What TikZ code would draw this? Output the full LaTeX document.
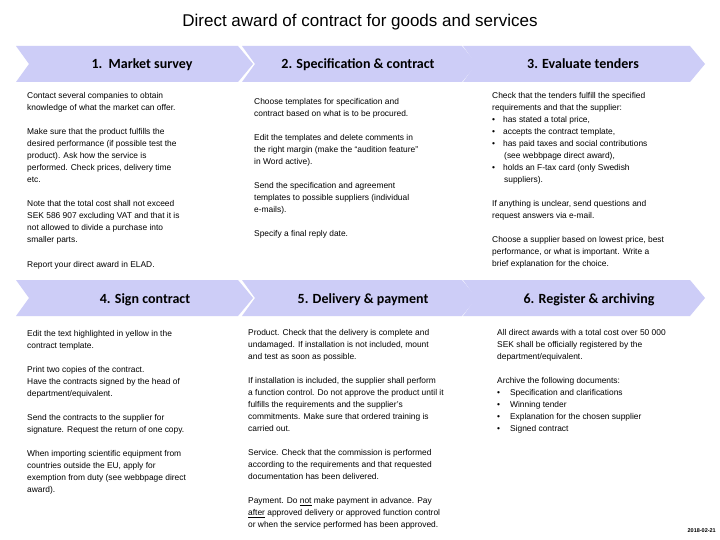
\documentclass[tikz,border=0pt]{standalone}
\usepackage{fontspec}
\setmainfont{Liberation Sans}
\newfontfamily\hdfont{Carlito}
\begin{document}
\begin{tikzpicture}[x=1pt,y=-1pt,
  body/.style={anchor=north west,inner sep=0pt,align=left,font=\fontsize{8.4}{12}\selectfont},
  head/.style={anchor=base,inner sep=0pt,font=\hdfont\bfseries\fontsize{14}{16}\selectfont}]
\definecolor{chevfill}{HTML}{CDCDF7}
\useasboundingbox (0,0) rectangle (720,540);
\fill[white] (0,0) rectangle (720,540);
\node[font=\fontsize{17}{19}\selectfont] (title) at (360,22) {Direct award of contract for goods and services};
\def\chevron#1#2#3{%
  \fill[chevfill] (#1,#3) -- (#2-15,#3) -- (#2,#3+18) -- (#2-15,#3+36) -- (#1,#3+36) -- (#1+13,#3+18) -- cycle;}
\foreach \a/\b in {16/253,242/477,463/705}{\chevron{\a}{\b}{46}\chevron{\a}{\b}{280}}
\node[head] (h1) at (142,69) {1.\ \ Market survey};
\node[head] (h2) at (358,69) {2. Specification \& contract};
\node[head] (h3) at (583,69) {3. Evaluate tenders};
\node[head] (h4) at (145,303) {4. Sign contract};
\node[head] (h5) at (363,303) {5. Delivery \& payment};
\node[head] (h6) at (589,303) {6. Register \& archiving};
\node[body] (a1) at (27,92) {Contact several companies to obtain\\knowledge of what the market can offer.};
\node[body] (a2) at (27,128) {Make sure that the product fulfills the\\desired performance (if possible test the\\product). Ask how the service is\\performed. Check prices, delivery time\\etc.};
\node[body] (a3) at (27,200) {Note that the total cost shall not exceed\\SEK 586 907 excluding VAT and that it is\\not allowed to divide a purchase into\\smaller parts.};
\node[body] (a4) at (27,261) {Report your direct award in ELAD.};
\node[body] (b1) at (254,98) {Choose templates for specification and\\contract based on what is to be procured.};
\node[body] (b2) at (254,134) {Edit the templates and delete comments in\\the right margin (make the ``audition feature''\\in Word active).};
\node[body] (b3) at (254,182) {Send the specification and agreement\\templates to possible suppliers (individual\\e-mails).};
\node[body] (b4) at (254,230) {Specify a final reply date.};
\node[body] (c1) at (492,92) {Check that the tenders fulfill the specified\\requirements and that the supplier:\\
\textbullet\hspace{8pt}has stated a total price,\\
\textbullet\hspace{8pt}accepts the contract template,\\
\textbullet\hspace{8pt}has paid taxes and social contributions\\
\hspace{12pt}(see webbpage direct award),\\
\textbullet\hspace{8pt}holds an F-tax card (only Swedish\\
\hspace{12pt}suppliers).};
\node[body] (c2) at (492,200) {If anything is unclear, send questions and\\request answers via e-mail.};
\node[body] (c3) at (492,236) {Choose a supplier based on lowest price, best\\performance, or what is important. Write a\\brief explanation for the choice.};
\node[body] (d1) at (27,330) {Edit the text highlighted in yellow in the\\contract template.};
\node[body] (d2) at (27,366) {Print two copies of the contract.\\Have the contracts signed by the head of\\department/equivalent.};
\node[body] (d3) at (27,414) {Send the contracts to the supplier for\\signature. Request the return of one copy.};
\node[body] (d4) at (27,450) {When importing scientific equipment from\\countries outside the EU, apply for\\exemption from duty (see webbpage direct\\award).};
\node[body] (e1) at (248,329) {Product. Check that the delivery is complete and\\undamaged. If installation is not included, mount\\and test as soon as possible.};
\node[body] (e2) at (248,377) {If installation is included, the supplier shall perform\\a function control. Do not approve the product until it\\fulfills the requirements and the supplier's\\commitments. Make sure that ordered training is\\carried out.};
\node[body] (e3) at (248,449) {Service. Check that the commission is performed\\according to the requirements and that requested\\documentation has been delivered.};
\node[body] (e4) at (248,497) {Payment. Do \underline{not} make payment in advance. Pay\\\underline{after} approved delivery or approved function control\\or when the service performed has been approved.};
\node[body] (f1) at (497,329) {All direct awards with a total cost over 50 000\\SEK shall be officially registered by the\\department/equivalent.};
\node[body] (f2) at (497,377) {Archive the following documents:\\
\textbullet\hspace{10pt}Specification and clarifications\\
\textbullet\hspace{10pt}Winning tender\\
\textbullet\hspace{10pt}Explanation for the chosen supplier\\
\textbullet\hspace{10pt}Signed contract};
\node[anchor=east,inner sep=0pt,font=\bfseries\fontsize{5.5}{6}\selectfont] (date) at (716,531) {2018-02-21};
\end{tikzpicture}
\end{document}
